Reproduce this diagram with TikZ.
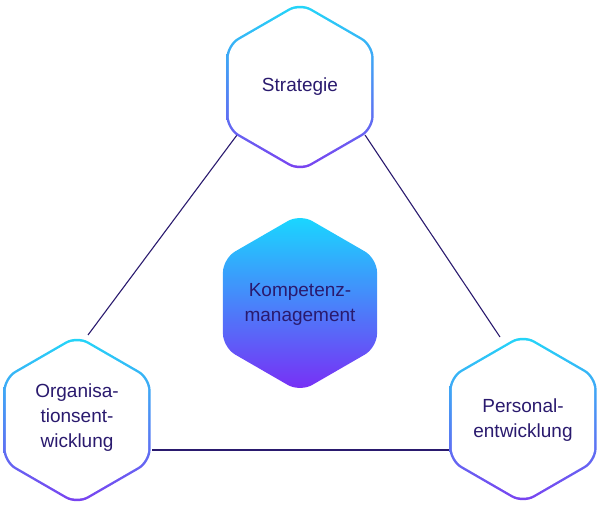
\documentclass[tikz,border=0pt]{standalone}
\usepackage{fontspec}
\setmainfont{Liberation Sans}
\definecolor{cy}{HTML}{22D8F8}
\definecolor{pu}{HTML}{7B3FF0}
\definecolor{cyf}{HTML}{18DAFF}
\definecolor{puf}{HTML}{7A2CF5}
\definecolor{tx}{HTML}{2A1A6E}
\newcommand\hexshape[3]{({#1},{#2-(#3)}) -- ({#1+0.866*(#3)},{#2-0.5*(#3)}) -- ({#1+0.866*(#3)},{#2+0.5*(#3)}) -- ({#1},{#2+(#3)}) -- ({#1-0.866*(#3)},{#2+0.5*(#3)}) -- ({#1-0.866*(#3)},{#2-0.5*(#3)}) -- cycle}
\newcommand\outhex[3]{%
  \shade[rounded corners=13pt,top color=cy,bottom color=pu] \hexshape{#1}{#2}{#3};
  \fill[white,rounded corners=12pt] \hexshape{#1}{#2}{#3-2.8};}
\begin{document}
\begin{tikzpicture}[x=1pt,y=-1pt,
  lab/.style={text=tx,font=\fontsize{19}{25}\selectfont,align=center},
  conn/.style={draw=tx,line width=1.1pt}]
\useasboundingbox (0,0) rectangle (600,505);
\coordinate (t1) at (237,135); \coordinate (l1) at (88,335);
\coordinate (t2) at (365,135); \coordinate (r1) at (500,337);
\coordinate (l2) at (152,450); \coordinate (r2) at (449,450);
\draw[conn] (t1) -- (l1);
\draw[conn] (t2) -- (r1);
\draw[conn] (l2) -- (r2);
\outhex{300}{87}{85}
\outhex{77}{420}{85}
\outhex{523}{419}{85}
\shade[rounded corners=14pt,top color=cyf,bottom color=puf] \hexshape{300}{303}{89};
\node[lab] (s) at (300,87) {Strategie};
\node[lab] (o) at (77,418) {Organisa-\\tionsent-\\wicklung};
\node[lab] (p) at (523,420) {Personal-\\entwicklung};
\node[lab] (k) at (300,304) {Kompetenz-\\management};
\end{tikzpicture}
\end{document}
